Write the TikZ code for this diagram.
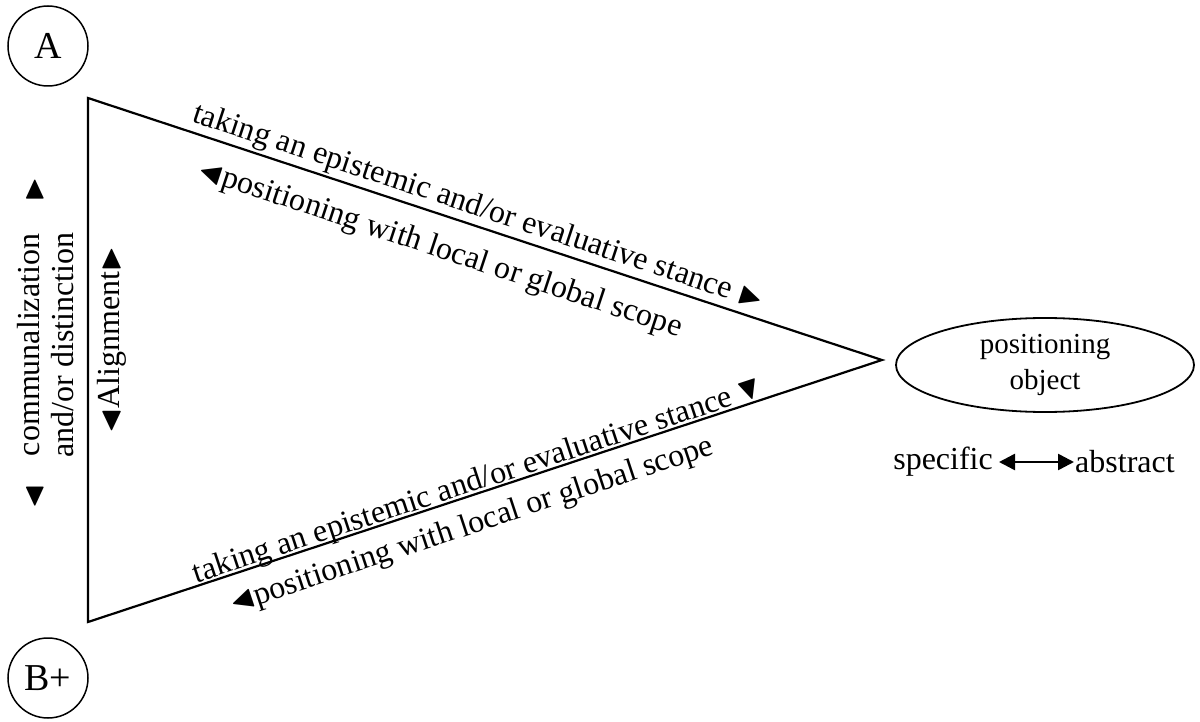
\documentclass[tikz,border=0pt]{standalone}
\usepackage{amssymb}
\usepackage{fontspec}
\setmainfont{Liberation Serif}
\usetikzlibrary{shapes.geometric,arrows.meta,calc}
\begin{document}
\begin{tikzpicture}[x=1pt,y=-1pt,
  lab/.style={font=\fontsize{32}{34}\selectfont,inner sep=0pt},
  circ/.style={draw,circle,line width=1.5pt,minimum size=80pt,inner sep=0pt,font=\fontsize{38}{40}\selectfont},
  edge/.style={line width=2.2pt}]
\useasboundingbox (0,0) rectangle (1200,722);
\coordinate (T) at (88,98);
\coordinate (B) at (88,622);
\coordinate (R) at (882,360);
\draw[edge] (T) -- (R) -- (B) -- cycle;
\node[circ] (a) at (48,46) {A};
\node[circ] (b) at (48,678) {B+};
\node[draw,ellipse,line width=1.8pt,minimum width=298pt,minimum height=94pt,inner sep=0pt,align=center,
  font=\fontsize{29}{36}\selectfont] (obj) at (1045,365) {positioning\\object};
\node[lab,rotate=-18.3] (t1) at (478,208) {taking an epistemic and/or evaluative stance $\blacktriangleright$};
\node[lab,rotate=-18.3] (t2) at (440,250) {$\blacktriangleleft$positioning with local or global scope};
\node[lab,rotate=18.3] (b1) at (478,482) {taking an epistemic and/or evaluative stance $\blacktriangledown$};
\node[lab,rotate=18.3] (b2) at (472,526) {$\blacktriangleleft$positioning with local or global scope};
\node[lab,rotate=90,align=center] (c) at (46,345) {communalization\\and/or distinction};
\node[lab] (up) at (35,190) {$\blacktriangle$};
\node[lab] (dn) at (35,497) {$\blacktriangledown$};
\node[lab,rotate=90] (al) at (112,340) {$\blacktriangleleft$Alignment$\blacktriangleright$};
\node[lab,anchor=east] (sp) at (993,462) {specific};
\node[lab,anchor=west] (ab) at (1075,462) {abstract};
\draw[line width=2.5pt,{Triangle[length=16pt,width=16pt]}-{Triangle[length=16pt,width=16pt]}] ($(sp.east)+(6,0)$) -- ($(ab.west)+(-1,0)$);
\end{tikzpicture}
\end{document}
